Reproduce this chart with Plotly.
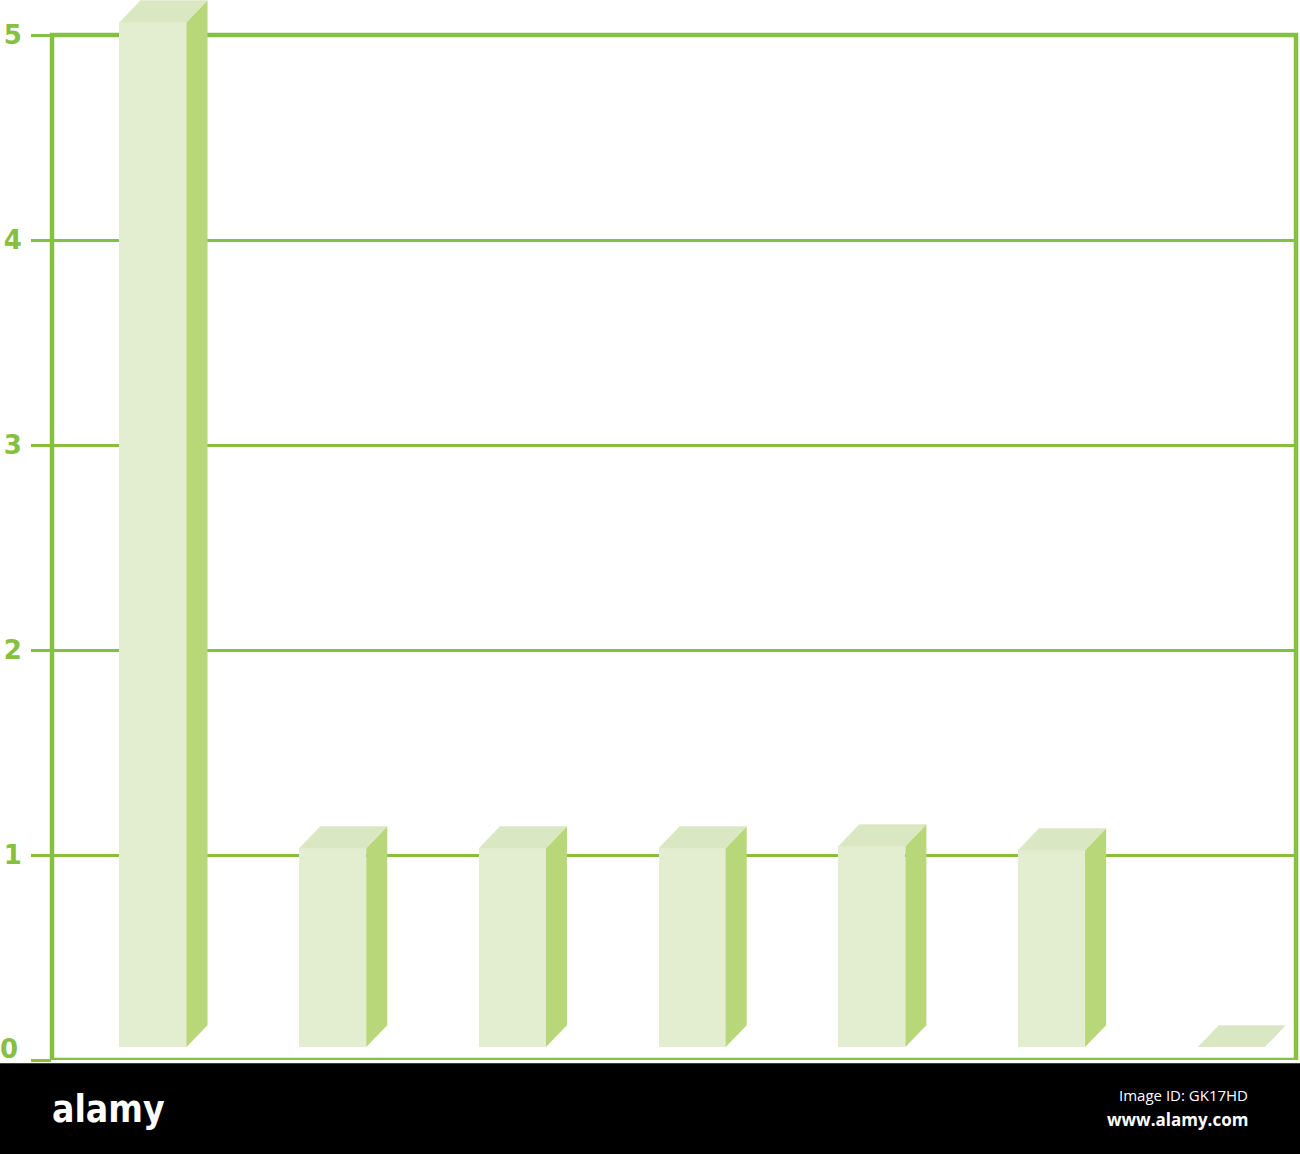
import plotly.graph_objects as go

# ---- data ----
categories = ["1", "2", "3", "4", "5", "6", "7"]
values = [5.0, 0.97, 0.97, 0.97, 0.98, 0.96, 0.0]
y_ticks = [0, 1, 2, 3, 4, 5]
y_tick_labels = ["0", "1", "2", "3", "4", "5"]

# ---- style ----
GREEN = "#86c03f"
FRONT = "#e2eecf"
TOP = "#d9e7c3"
SIDE = "#b8d779"
BASE = 0.063      # bars float slightly above the baseline
BAR_W = 0.373     # front face width (x units)
DX = 0.117        # depth offset (x units)
DY = 0.107        # depth offset (y units)

xs = list(range(len(categories)))

fig = go.Figure()

# side faces
sx, sy = [], []
for x, v in zip(xs, values):
    if v <= 0:
        continue
    r = x + BAR_W / 2
    sx += [r, r + DX, r + DX, r, r, None]
    sy += [BASE, BASE + DY, BASE + v + DY, BASE + v, BASE, None]
fig.add_trace(go.Scatter(x=sx, y=sy, fill="toself", fillcolor=SIDE,
                         mode="lines", line=dict(width=0), hoverinfo="skip",
                         showlegend=False))

# top faces
tx, ty = [], []
for x, v in zip(xs, values):
    l = x - BAR_W / 2
    r = x + BAR_W / 2
    t = BASE + v
    tx += [l, r, r + DX, l + DX, l, None]
    ty += [t, t, t + DY, t + DY, t, None]
fig.add_trace(go.Scatter(x=tx, y=ty, fill="toself", fillcolor=TOP,
                         mode="lines", line=dict(width=0), hoverinfo="skip",
                         showlegend=False))

# front faces
fig.add_trace(go.Bar(x=xs, y=values, base=BASE, width=BAR_W,
                     marker=dict(color=FRONT, line=dict(width=0)),
                     hoverinfo="skip", showlegend=False))

# frame (left, right, top at 5, bottom at 0)
fig.add_shape(type="rect", xref="paper", yref="y", x0=0, x1=1, y0=0, y1=5,
              line=dict(color=GREEN, width=4.5), layer="below")

# watermark banner
fig.add_shape(type="rect", xref="paper", yref="paper", x0=-1, x1=2,
              y0=-1, y1=-0.003, fillcolor="black", line=dict(width=0),
              layer="above")

# "0" tick label sits just above the baseline
fig.add_annotation(text="<b>" + y_tick_labels[0] + "</b>", xref="paper", yref="y",
                   x=-0.0255, y=y_ticks[0], xanchor="right", yanchor="bottom",
                   yshift=-6, showarrow=False,
                   font=dict(family="DejaVu Sans, sans-serif", size=26, color=GREEN))

fig.add_annotation(text="<b>alamy</b>", xref="paper", yref="paper",
                   x=-0.002, y=-0.047, xanchor="left", yanchor="middle",
                   showarrow=False,
                   font=dict(family="DejaVu Sans Condensed, DejaVu Sans, sans-serif",
                             size=37, color="white"))
fig.add_annotation(text="Image ID: GK17HD", xref="paper", yref="paper",
                   x=0.963, y=-0.033, xanchor="right", yanchor="middle",
                   showarrow=False,
                   font=dict(family="Open Sans, DejaVu Sans, sans-serif",
                             size=15, color="white"))
fig.add_annotation(text="<b>www.alamy.com</b>", xref="paper", yref="paper",
                   x=0.963, y=-0.056, xanchor="right", yanchor="middle",
                   showarrow=False,
                   font=dict(family="Open Sans, DejaVu Sans, sans-serif",
                             size=17, color="white"))

tick_text = [""] + y_tick_labels[1:]

fig.update_layout(
    width=1300, height=1154,
    margin=dict(l=52, r=4, t=0, b=94),
    paper_bgcolor="white", plot_bgcolor="white",
    bargap=0,
    xaxis=dict(range=[-0.562, 6.36], showgrid=False, zeroline=False,
               showticklabels=False, ticks="", showline=False, fixedrange=True),
    yaxis=dict(range=[0, 5.171], tickvals=y_ticks, ticktext=tick_text,
               showgrid=True, gridcolor=GREEN, gridwidth=3,
               zeroline=False, showline=False,
               ticks="outside", ticklen=20, tickwidth=3, tickcolor=GREEN,
               ticklabelstandoff=4,
               tickfont=dict(family="DejaVu Sans, sans-serif", size=26,
                             color=GREEN, weight="bold"),
               fixedrange=True),
)

fig.write_html("out.html", config={"displayModeBar": False},
               post_script="document.body.style.margin='0';document.body.style.padding='0';")
